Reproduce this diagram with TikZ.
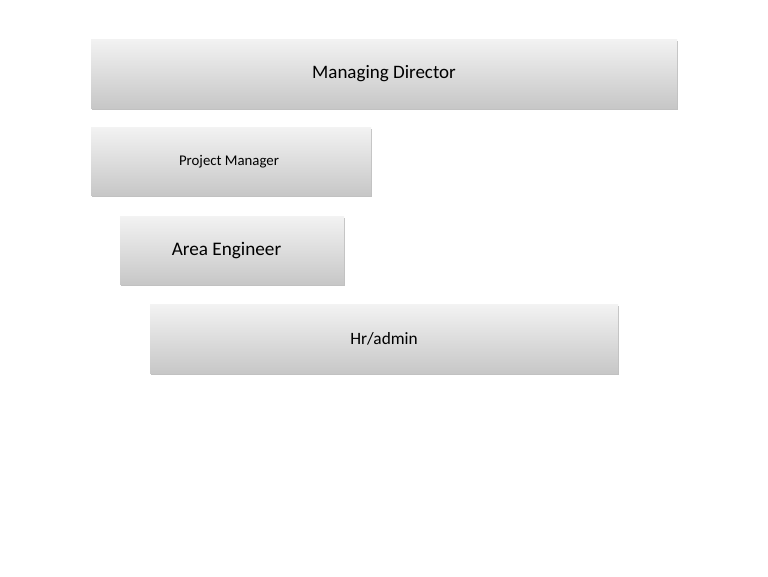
\documentclass[tikz,border=0pt]{standalone}
\usepackage{fontspec}
\setmainfont{Carlito}
\usetikzlibrary{shadows}
\tikzset{post/.style={rectangle,inner sep=0pt,top color=black!5,bottom color=black!22,
  draw=none,drop shadow={shadow xshift=1pt,shadow yshift=-1.5pt,fill=black!40,opacity=0.6}}}
\begin{document}
\begin{tikzpicture}[x=1pt,y=-1pt]
 		\useasboundingbox[fill=white] (0,0) rectangle (768,576);
 		\node[post,minimum width=586pt,minimum height=69pt,font=\fontsize{19}{22}\selectfont] (director) at (384,73.5) {Managing Director};
 		\node[post,minimum width=280pt,minimum height=68pt,
 		  label={[xshift=-2pt,font=\fontsize{14.8}{17}\selectfont]center:Project Manager}] (manager) at (231,161.5) {};
 		\node[post,minimum width=224pt,minimum height=68pt,
 		  label={[xshift=-5.5pt,font=\fontsize{19.2}{22}\selectfont]center:Area Engineer}] (engineer) at (232,250.5) {};
 		\node[post,minimum width=468pt,minimum height=69pt,font=\fontsize{17.3}{20}\selectfont] (admin) at (384,339) {Hr/admin};
 	\end{tikzpicture}
\end{document}
